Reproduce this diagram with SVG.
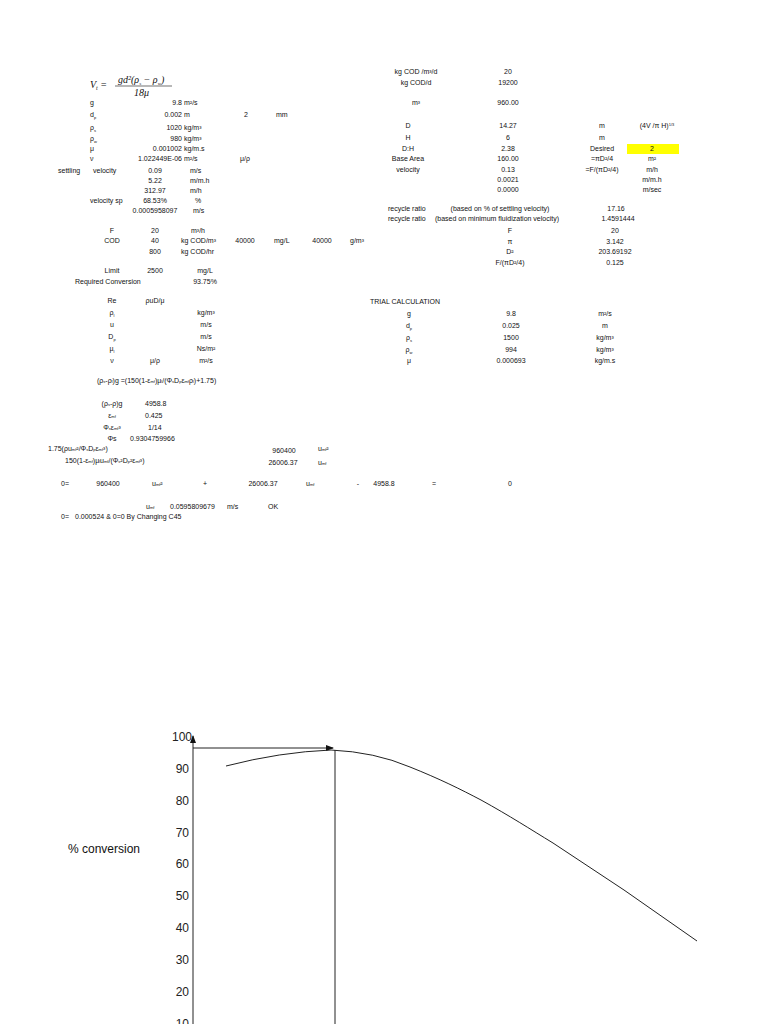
<svg xmlns="http://www.w3.org/2000/svg" width="768" height="1024" viewBox="0 0 768 1024">
<style>
text{font-family:"Liberation Sans",Arial,sans-serif;font-size:7px;fill:#111}
.c{text-anchor:middle}.r{text-anchor:end}
.f{font-family:"Liberation Serif","Times New Roman",serif;font-style:italic;font-size:10px}
.ax{font-size:12px;text-anchor:end;fill:#222}
.ln{stroke:#222;stroke-width:1;fill:none}
</style>
<defs><marker id="ah" markerWidth="8" markerHeight="6" refX="7" refY="3" orient="auto" markerUnits="userSpaceOnUse"><path d="M0,0L8,3L0,6z" fill="#111"/></marker></defs>
<rect width="768" height="1024" fill="#fff"/>
<g id="formula">
<text class="f" x="90" y="88">V<tspan font-size="6" dy="2">t</tspan><tspan dy="-2"> = </tspan></text>
<text class="f" x="118" y="83" font-size="8">gd²(ρ<tspan font-size="5" dy="2">s</tspan><tspan dy="-2"> − ρ</tspan><tspan font-size="5" dy="2">w</tspan><tspan dy="-2">)</tspan></text>
<line x1="115" y1="86" x2="172" y2="86" stroke="#111" stroke-width="0.6"/>
<text class="f" x="134" y="96" font-size="8">18μ</text>
</g>
<g id="left">
<text x="90" y="105">g</text><text class="r" x="182" y="105">9.8</text><text x="184" y="105">m²/s</text>
<text x="90" y="117">d<tspan font-size="4" dy="2">p</tspan></text><text class="r" x="182" y="117">0.002</text><text x="184" y="117">m</text><text x="244" y="117">2</text><text x="276" y="117">mm</text>
<text x="90" y="130">ρ<tspan font-size="4" dy="2">s</tspan></text><text class="r" x="182" y="130">1020</text><text x="184" y="130">kg/m³</text>
<text x="90" y="141">ρ<tspan font-size="4" dy="2">w</tspan></text><text class="r" x="182" y="141">980</text><text x="184" y="141">kg/m³</text>
<text x="90" y="151">μ</text><text class="r" x="182" y="151">0.001002</text><text x="184" y="151">kg/m.s</text>
<text x="90" y="161">ν</text><text class="r" x="182" y="161">1.022449E-06</text><text x="184" y="161">m²/s</text><text x="240" y="161">μ/ρ</text>
<text x="58" y="173">settling</text><text x="93" y="173">velocity</text><text class="c" x="155" y="173">0.09</text><text x="190" y="173">m/s</text>
<text class="c" x="155" y="183">5.22</text><text x="190" y="183">m/m.h</text>
<text class="c" x="155" y="193">312.97</text><text x="190" y="193">m/h</text>
<text x="90" y="203">velocity sp</text><text class="c" x="155" y="203">68.53%</text><text x="195" y="203">%</text>
<text class="c" x="155" y="213">0.0005958097</text><text x="193" y="213">m/s</text>
<text class="c" x="112" y="233">F</text><text class="c" x="155" y="233">20</text><text x="191" y="233">m³/h</text>
<text class="c" x="112" y="243">COD</text><text class="c" x="155" y="243">40</text><text x="181" y="243">kg COD/m³</text><text class="c" x="245" y="243">40000</text><text x="274" y="243">mg/L</text><text class="c" x="322" y="243">40000</text><text x="350" y="243">g/m³</text>
<text class="c" x="155" y="254">800</text><text x="181" y="254">kg COD/hr</text>
<text class="c" x="112" y="273">Limit</text><text class="c" x="155" y="273">2500</text><text class="c" x="205" y="273">mg/L</text>
<text x="75" y="284">Required Conversion</text><text class="c" x="205" y="284">93.75%</text>
<text class="c" x="112" y="303">Re</text><text class="c" x="155" y="303">ρuD/μ</text>
<text class="c" x="112" y="315">ρ<tspan font-size="4" dy="2">l</tspan></text><text class="c" x="206" y="315">kg/m³</text>
<text class="c" x="112" y="327">u</text><text class="c" x="206" y="327">m/s</text>
<text class="c" x="112" y="339">D<tspan font-size="4" dy="2">p</tspan></text><text class="c" x="206" y="339">m/s</text>
<text class="c" x="112" y="351">μ<tspan font-size="4" dy="2">l</tspan></text><text class="c" x="206" y="351">Ns/m²</text>
<text class="c" x="112" y="363">ν</text><text class="c" x="155" y="363">μ/ρ</text><text class="c" x="206" y="363">m²/s</text>
<text x="97" y="383">(ρ<tspan font-size="4">s</tspan>-ρ<tspan font-size="4">l</tspan>)g   =(150(1-ε<tspan font-size="4">mf</tspan>)μ<tspan font-size="4">l</tspan>/(Φ<tspan font-size="4">s</tspan>D<tspan font-size="4">p</tspan>ε<tspan font-size="4">mf</tspan>ρ<tspan font-size="4">l</tspan>)+1.75)</text>
<text class="c" x="112" y="406">(ρ<tspan font-size="4">s</tspan>-ρ)g</text><text x="145" y="406">4958.8</text>
<text class="c" x="112" y="418">ε<tspan font-size="4">mf</tspan></text><text x="145" y="418">0.425</text>
<text class="c" x="112" y="430">Φ<tspan font-size="4">s</tspan>ε<tspan font-size="4">mf</tspan>³</text><text x="148" y="430">1/14</text>
<text class="c" x="112" y="441">Φs</text><text x="130" y="441">0.9304759966</text>
<text x="48" y="451">1.75(ρu<tspan font-size="4">mf</tspan>²/Φ<tspan font-size="4">s</tspan>D<tspan font-size="4">p</tspan>ε<tspan font-size="4">mf</tspan>³)</text><text class="c" x="284" y="453">960400</text><text x="318" y="451">u<tspan font-size="4">mf</tspan>²</text>
<text x="65" y="463">150(1-ε<tspan font-size="4">mf</tspan>)μ<tspan font-size="4">l</tspan>u<tspan font-size="4">mf</tspan>/(Φ<tspan font-size="4">s</tspan>²D<tspan font-size="4">p</tspan>²ε<tspan font-size="4">mf</tspan>³)</text><text class="c" x="283" y="465">26006.37</text><text x="318" y="465">u<tspan font-size="4">mf</tspan></text>
<text x="61" y="486">0=</text><text class="c" x="108" y="486">960400</text><text x="152" y="486">u<tspan font-size="4">mf</tspan>²</text><text class="c" x="205" y="486">+</text><text class="c" x="263" y="486">26006.37</text><text x="306" y="486">u<tspan font-size="4">mf</tspan></text><text class="c" x="358" y="486">-</text><text class="c" x="384" y="486">4958.8</text><text class="c" x="434" y="486">=</text><text class="c" x="510" y="486">0</text>
<text x="146" y="509">u<tspan font-size="4">mf</tspan></text><text x="170" y="509">0.0595809679</text><text x="227" y="509">m/s</text><text x="268" y="509">OK</text>
<text x="61" y="519">0=</text><text x="75" y="519">0.000524 &amp; 0=0 By Changing C45</text>
</g>
<g id="right">
<text class="c" x="416" y="74">kg COD /m³/d</text><text class="c" x="508" y="74">20</text>
<text class="c" x="416" y="85">kg COD/d</text><text class="c" x="508" y="85">19200</text>
<text class="c" x="416" y="105">m³</text><text class="c" x="508" y="105">960.00</text>
<text class="c" x="408" y="128">D</text><text class="c" x="508" y="128">14.27</text><text class="c" x="602" y="128">m</text><text class="c" x="657" y="128">(4V /π H)<tspan font-size="4" dy="-2">1/3</tspan></text>
<text class="c" x="408" y="140">H</text><text class="c" x="508" y="140">6</text><text class="c" x="602" y="140">m</text>
<rect x="627" y="144" width="52" height="10" fill="#ffff00"/>
<text class="c" x="408" y="151">D:H</text><text class="c" x="508" y="151">2.38</text><text class="c" x="602" y="151">Desired</text><text class="c" x="652" y="151">2</text>
<text class="c" x="408" y="161">Base Area</text><text class="c" x="508" y="161">160.00</text><text class="c" x="602" y="161">=πD²/4</text><text class="c" x="652" y="161">m²</text>
<text class="c" x="408" y="172">velocity</text><text class="c" x="508" y="172">0.13</text><text class="c" x="602" y="172">=F/(πD²/4)</text><text class="c" x="652" y="172">m/h</text>
<text class="c" x="508" y="182">0.0021</text><text class="c" x="652" y="182">m/m.h</text>
<text class="c" x="508" y="192">0.0000</text><text class="c" x="652" y="192">m/sec</text>
<text x="388" y="211">recycle ratio</text><text class="c" x="500" y="211">(based on % of settling velocity)</text><text class="c" x="616" y="211">17.16</text>
<text x="388" y="221">recycle ratio</text><text class="c" x="497" y="221">(based on minimum fluidization velocity)</text><text class="c" x="618" y="221">1.4591444</text>
<text class="c" x="510" y="233">F</text><text class="c" x="615" y="233">20</text>
<text class="c" x="510" y="244">π</text><text class="c" x="615" y="244">3.142</text>
<text class="c" x="510" y="254">D²</text><text class="c" x="615" y="254">203.69192</text>
<text class="c" x="510" y="265">F/(πD²/4)</text><text class="c" x="615" y="265">0.125</text>
<text x="370" y="304">TRIAL CALCULATION</text>
<text class="c" x="409" y="316">g</text><text class="c" x="511" y="316">9.8</text><text class="c" x="605" y="316">m²/s</text>
<text class="c" x="409" y="328">d<tspan font-size="4" dy="2">p</tspan></text><text class="c" x="511" y="328">0.025</text><text class="c" x="605" y="328">m</text>
<text class="c" x="409" y="340">ρ<tspan font-size="4" dy="2">s</tspan></text><text class="c" x="511" y="340">1500</text><text class="c" x="605" y="340">kg/m³</text>
<text class="c" x="409" y="352">ρ<tspan font-size="4" dy="2">w</tspan></text><text class="c" x="511" y="352">994</text><text class="c" x="605" y="352">kg/m³</text>
<text class="c" x="409" y="363">μ</text><text class="c" x="511" y="363">0.000693</text><text class="c" x="605" y="363">kg/m.s</text>
</g>
<g id="chart">
<line class="ln" x1="193" y1="1024" x2="193" y2="736" stroke="#555" marker-end="url(#ah)"/>
<line class="ln" x1="193" y1="748" x2="333" y2="748" marker-end="url(#ah)"/>
<line class="ln" x1="335" y1="750" x2="335" y2="1024"/>
<path class="ln" d="M226,766 Q280,752 331,750 Q375,752 410,767 C440,779 460,789 481,800 C510,816 530,829 553,843 L624,890 L697,941"/>
<text x="68" y="853" style="font-size:12px">% conversion</text>
<text class="ax" x="192" y="741">100</text>
<text class="ax" x="189" y="773">90</text><text class="ax" x="189" y="805">80</text><text class="ax" x="189" y="837">70</text><text class="ax" x="189" y="868">60</text><text class="ax" x="189" y="900">50</text><text class="ax" x="189" y="932">40</text><text class="ax" x="189" y="964">30</text><text class="ax" x="189" y="996">20</text><text class="ax" x="189" y="1028">10</text>
</g>
</svg>
